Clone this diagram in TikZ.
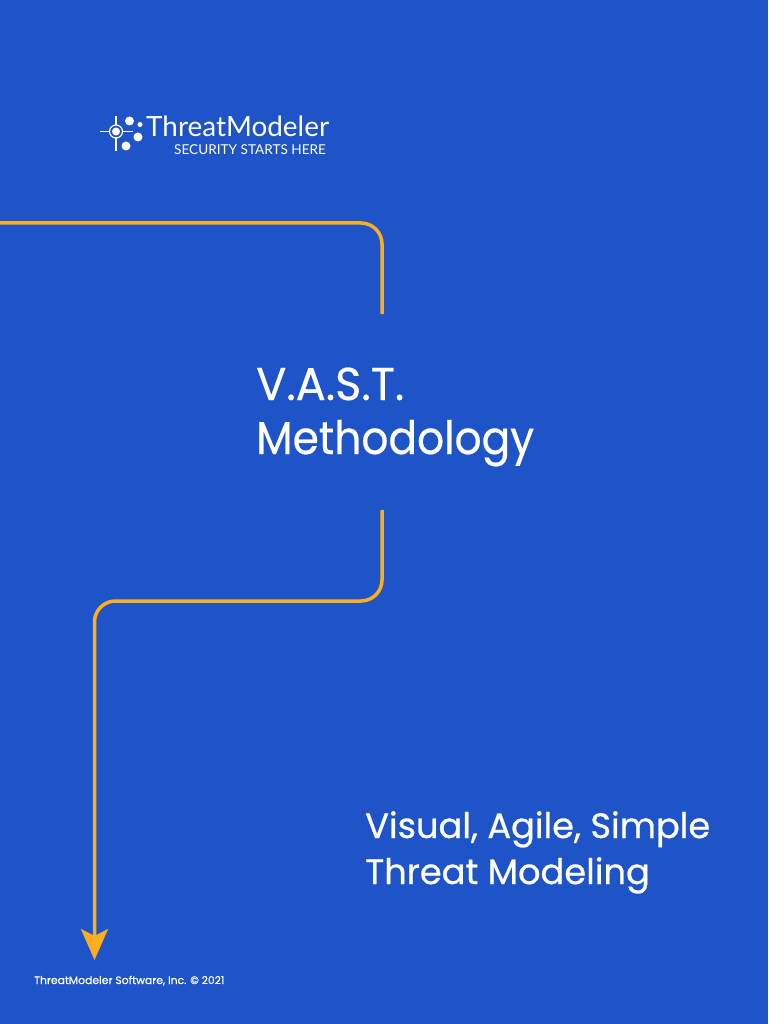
\documentclass[tikz,border=0pt]{standalone}
\usepackage{fontspec}
\usetikzlibrary{arrows.meta}
\setmainfont{Poppins}[FakeBold=0.7]
\newfontfamily\titlefont{Poppins}[FakeBold=0.5,FakeStretch=0.92]
\newfontfamily\headfont{Poppins}[FakeBold=0.5,FakeStretch=0.97]
\newfontfamily\logofont{Lato}
\definecolor{pagebg}{HTML}{1F53C8}
\definecolor{linegold}{HTML}{FDAE1D}
\tikzset{
  guide/.style={draw=linegold, line width=3.5pt, rounded corners=21pt},
  logoline/.style={draw=white, line width=1.8pt},
  logodot/.style={circle, fill=white, inner sep=0pt, outer sep=0pt},
  caption/.style={text=white, anchor=base west, inner sep=0pt, align=left}
}
\begin{document}
\begin{tikzpicture}[x=1pt,y=-1pt]
\fill[pagebg] (0,0) rectangle (768,1024);
\useasboundingbox (0,0) rectangle (768,1024);

% gold lines
\coordinate (topstart) at (0,223);
\coordinate (topend) at (382,314);
\coordinate (lowstart) at (382,510);
\coordinate (lowend) at (94.5,960);
\draw[guide] (topstart) -- (382,223) -- (topend);
\draw[guide, -{Stealth[length=31pt,width=27pt,inset=7pt]}] (lowstart) -- (382,601) -- (94.5,601) -- (lowend);

% logo
\coordinate (hub) at (116,131.5);
\draw[logoline] (100,131.5) -- (133,131.5);
\draw[logoline] (116,116) -- (116,151);
\node[logodot, minimum size=13pt, fill=pagebg, draw=white, line width=1.2pt] (ring) at (hub) {};
\node[logodot, minimum size=8pt] (core) at (hub) {};
\node[logodot, minimum size=9pt] (dota) at (129.5,121) {};
\node[logodot, minimum size=5pt] (dotb) at (140,124.5) {};
\node[logodot, minimum size=9pt] (dotc) at (138,137) {};
\node[logodot, minimum size=9pt] (dotd) at (126,146) {};
\node[caption, font=\logofont\fontsize{27.9}{27.9}\selectfont] (brand) at (146,136.5) {ThreatModeler};
\node[caption, font=\logofont\fontsize{13.6}{13.6}\selectfont] (tagline) at (174,155) {SECURITY STARTS HERE};

% texts
\node[caption, font=\headfont\fontsize{46}{46}\selectfont] (title) at (256,400) {V.A.S.T.};
\node[caption, font=\titlefont\fontsize{46}{46}\selectfont] (method) at (256,454) {Methodology};
\node[caption, font=\fontsize{35.2}{35.2}\selectfont] (subone) at (365,838) {Visual, Agile, Simple};
\node[caption, font=\fontsize{35.2}{35.2}\selectfont] (subtwo) at (365,884) {Threat Modeling};
\node[caption, font=\fontsize{10.8}{10.8}\selectfont] (copy) at (34,984) {ThreatModeler Software, Inc. © 2021};
\end{tikzpicture}
\end{document}
